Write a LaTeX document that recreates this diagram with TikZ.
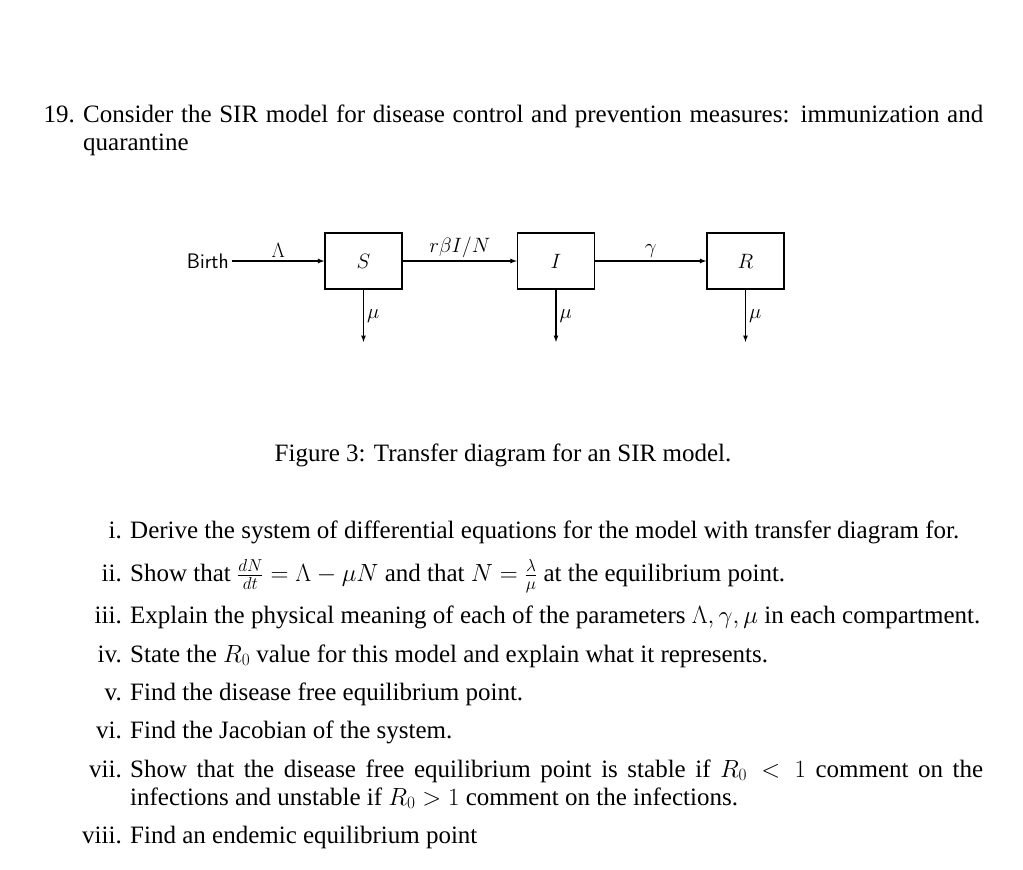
\documentclass[tikz,border=0pt]{standalone}
\usepackage{fontspec}
\setmainfont{Liberation Serif}
\begin{document}
\begin{tikzpicture}[x=1pt,y=-1pt,
  txt/.style={anchor=base west,inner sep=0pt,font=\fontsize{25}{28}\selectfont},
  lbl/.style={anchor=base east,inner sep=0pt,font=\fontsize{25}{28}\selectfont},
  comp/.style={draw,line width=1.3pt,minimum width=77pt,minimum height=56pt,inner sep=0pt,font=\fontsize{20}{22}\selectfont},
  flow/.style={-latex,line width=1.2pt},
  small/.style={font=\fontsize{20}{22}\selectfont,inner sep=3pt}]
\useasboundingbox (0,0) rectangle (1023,870);
\node[lbl] (n19) at (75,122) {19.};
\node[txt] (t1) at (83,122) {\makebox[900pt][s]{Consider the SIR model for disease control and prevention measures: immunization and}};
\node[txt] (t2) at (83,150) {quarantine};
% diagram
\node[comp] (S) at (363.5,261) {$S$};
\node[comp] (I) at (556,261) {$I$};
\node[comp] (R) at (745.5,261) {$R$};
\node[small,anchor=east,font=\fontsize{21}{22}\selectfont\sffamily] (birth) at (232,261) {Birth};
\draw[flow] (birth) -- node[small,above]{$\Lambda$} (S);
\draw[flow] (S) -- node[small,above]{$r\beta I/N$} (I);
\draw[flow] (I) -- node[small,above]{$\gamma$} (R);
\coordinate (s1) at (363.5,342); \coordinate (i1) at (556,342); \coordinate (r1) at (745.5,342);
\draw[flow] (S.south) -- node[small,right]{$\mu$} (s1);
\draw[flow] (I.south) -- node[small,right]{$\mu$} (i1);
\draw[flow] (R.south) -- node[small,right]{$\mu$} (r1);
\node[anchor=base,inner sep=0pt,font=\fontsize{25}{28}\selectfont] (cap) at (503,461) {Figure 3: Transfer diagram for an SIR model.};
% items
\node[lbl] (l1) at (122,538) {i.};
\node[txt] (i1t) at (130,538) {Derive the system of differential equations for the model with transfer diagram for.};
\node[lbl] (l2) at (122,581) {ii.};
\node[txt] (i2t) at (130,581) {Show that $\frac{dN}{dt}=\Lambda-\mu N$ and that $N=\frac{\lambda}{\mu}$ at the equilibrium point.};
\node[lbl] (l3) at (122,623) {iii.};
\node[txt] (i3t) at (130,623) {Explain the physical meaning of each of the parameters $\Lambda,\gamma,\mu$ in each compartment.};
\node[lbl] (l4) at (122,662) {iv.};
\node[txt] (i4t) at (130,662) {State the $R_0$ value for this model and explain what it represents.};
\node[lbl] (l5) at (122,700) {v.};
\node[txt] (i5t) at (130,700) {Find the disease free equilibrium point.};
\node[lbl] (l6) at (122,738) {vi.};
\node[txt] (i6t) at (130,738) {Find the Jacobian of the system.};
\node[lbl] (l7) at (122,777) {vii.};
\node[txt] (i7t) at (130,777) {\makebox[853pt][s]{Show that the disease free equilibrium point is stable if $R_0<1$ comment on the}};
\node[txt] (i7b) at (130,805) {infections and unstable if $R_0>1$ comment on the infections.};
\node[lbl] (l8) at (122,843) {viii.};
\node[txt] (i8t) at (130,843) {Find an endemic equilibrium point};
\end{tikzpicture}
\end{document}
